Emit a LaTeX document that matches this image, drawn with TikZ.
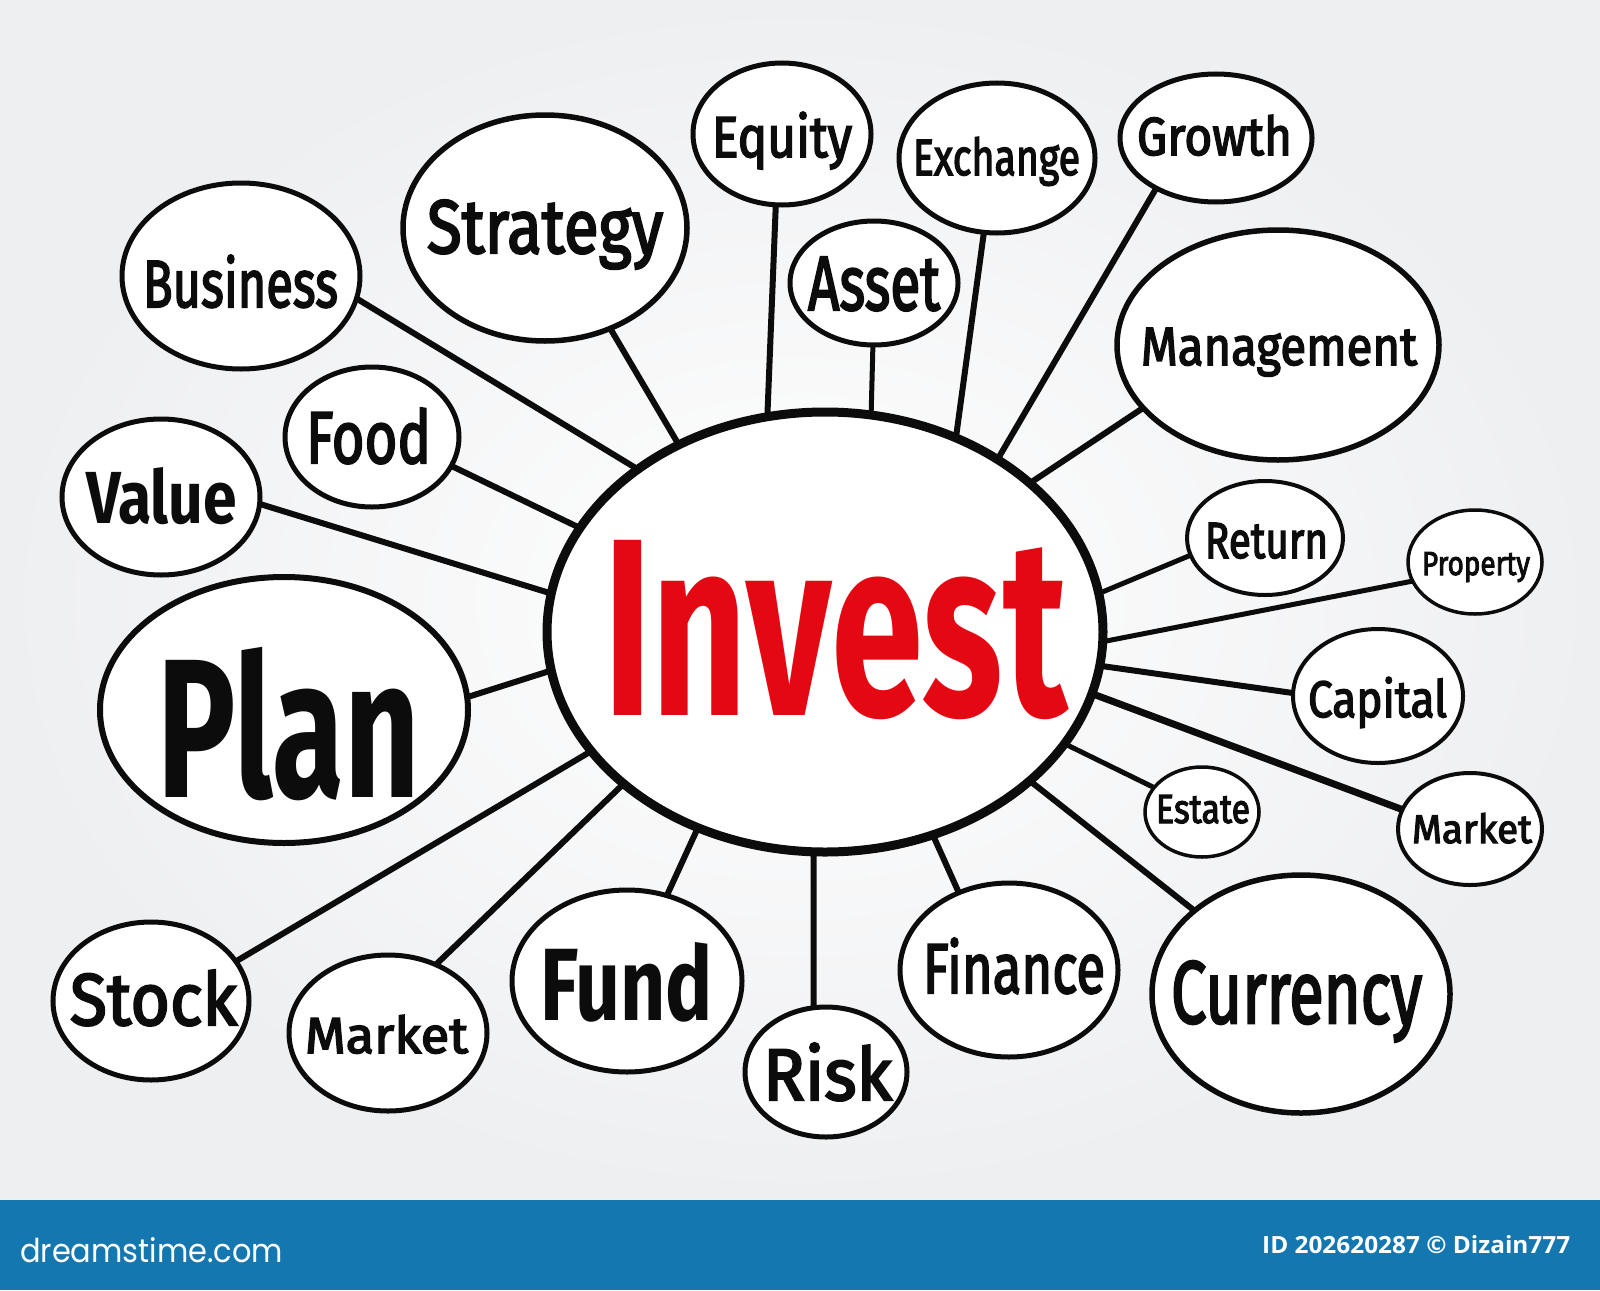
\documentclass[tikz,border=0pt]{standalone}
\usepackage{fontspec}
\newfontfamily\hwfont{Fira Sans}[FakeBold=3]
\newfontfamily\hwbold{Fira Sans Bold}
\newfontfamily\dsfont{Poppins}
\newfontfamily\idfont{Open Sans}
\usetikzlibrary{shapes.geometric}
\pgfdeclarelayer{bg}
\pgfdeclarelayer{lines}
\pgfsetlayers{bg,lines,main}
\definecolor{ink}{RGB}{12,12,12}
\definecolor{investred}{RGB}{228,8,18}
\definecolor{barblue}{RGB}{20,119,176}
\definecolor{bgout}{RGB}{238,239,241}
\tikzset{
  bubble/.style={ellipse, draw=ink, fill=white, line width=5pt, inner sep=0pt, outer sep=0pt},
  conn/.style={draw=ink, line width=6pt},
  lbl/.style={anchor=base west, inner sep=0pt, outer sep=0pt, text=ink},
}
\newcommand\bub[6][]{\node[bubble, minimum width=#5pt, minimum height=#6pt, #1] (#2) at (#3,#4) {};}
\newcommand\wlabel[7][]{\node[lbl, #1] (#2) at (#3,#4) {\resizebox{#5pt}{#6pt}{\hwfont #7}};}
\newcommand\blabel[7][]{\node[lbl, #1] (#2) at (#3,#4) {\resizebox{#5pt}{#6pt}{\hwbold #7}};}
\begin{document}
\begin{tikzpicture}[x=1pt,y=-1pt]
\useasboundingbox (0,0) rectangle (1600,1290);
\begin{pgfonlayer}{bg}
  \shade[inner color=white, outer color=bgout] (0,0) rectangle (1600,1200);
  \fill[barblue] (0,1200) rectangle (1600,1290);
\end{pgfonlayer}

% bubbles
\bub[line width=9pt]{invest}{825}{632}{556}{440}
\bub{business}{241}{276}{238}{186}
\bub[line width=5.5pt]{strategy}{545}{228}{284}{226}
\bub{equity}{782}{134}{178}{142}
\bub{exchange}{997}{158}{196}{150}
\bub{growth}{1216}{138}{192}{128}
\bub{asset}{874}{283}{168}{124}
\bub[line width=5.5pt]{management}{1278}{345}{322}{230}
\bub{food}{372}{437}{174}{140}
\bub{value}{161}{497}{198}{156}
\bub[line width=6pt]{plan}{284}{710}{368}{266}
\bub[line width=4pt]{return}{1265}{538}{156}{114}
\bub[line width=3.5pt]{property}{1475}{562}{134}{104}
\bub[line width=4pt]{capital}{1378}{696}{170}{134}
\bub[line width=3.5pt]{estate}{1202}{812}{114}{90}
\bub[line width=4pt]{marketr}{1470}{829}{144}{112}
\bub{stock}{151}{1001}{196}{158}
\bub{marketl}{388}{1033}{198}{156}
\bub{fund}{627}{981}{230}{182}
\bub{risk}{826}{1072}{162}{130}
\bub{finance}{1009}{970}{218}{174}
\bub[line width=5.5pt]{currency}{1301}{994}{298}{238}

% labels
\blabel[text=investred]{invest-t}{603}{715}{464}{175}{Invest}
\wlabel{business-t}{143}{307}{195}{52}{Business}
\wlabel{strategy-t}{427}{253}{236}{53}{Strategy}
\wlabel{equity-t}{712}{157}{140}{45}{Equity}
\wlabel{exchange-t}{913}{175}{167}{38}{Exchange}
\wlabel{growth-t}{1137}{155}{155}{40}{Growth}
\wlabel{asset-t}{808}{310}{132}{53}{Asset}
\wlabel{management-t}{1141}{365}{276}{37}{Management}
\wlabel{food-t}{306}{463}{125}{55}{Food}
\blabel{value-t}{86}{523}{151}{56}{Value}
\blabel{plan-t}{157}{797}{263}{150}{Plan}
\wlabel{return-t}{1205}{558}{123}{35}{Return}
\wlabel{property-t}{1422}{575}{108}{23}{Property}
\wlabel{capital-t}{1308}{717}{139}{40}{Capital}
\wlabel{estate-t}{1156}{823}{94}{28}{Estate}
\wlabel{marketr-t}{1412}{843}{120}{30}{Market}
\wlabel{stock-t}{70}{1025}{167}{55}{Stock}
\wlabel{marketl-t}{305}{1053}{163}{38}{Market}
\blabel{fund-t}{540}{1020}{173}{78}{Fund}
\wlabel{risk-t}{763}{1100}{129}{57}{Risk}
\wlabel{finance-t}{923}{993}{182}{55}{Finance}
\wlabel{currency-t}{1171}{1023}{251}{62}{Currency}

% connectors
\begin{pgfonlayer}{lines}
\draw[conn] (business.-11.2) -- (invest.139.5);
\draw[conn] (strategy.-57.5) -- (invest.128.1);
\draw[conn] (equity.-95.5) -- (invest.105.5);
\draw[conn, line width=5pt] (asset.-91.8) -- (invest.78.9);
\draw[conn] (exchange.-100.7) -- (invest.56.4);
\draw[conn] (growth.220.6) -- (invest.45.5);
\draw[conn] (management.205.4) -- (invest.36.5);
\draw[conn] (food.-20.9) -- (invest.157.6);
\draw[conn] (value.-4.7) -- (invest.172.4);
\draw[conn] (plan.4.7) -- (invest.188.1);
\draw[conn, line width=5pt] (return.193.9) -- (invest.8.6);
\draw[conn, line width=5pt] (property.197.1) -- (invest.-2.1);
\draw[conn] (capital.178) -- (invest.-7.5);
\draw[conn, line width=7pt] (marketr.164.4) -- (invest.-13.7);
\draw[conn, line width=5pt] (estate.153.9) -- (invest.-25.2);
\draw[conn] (currency.142.9) -- (invest.-36.3);
\draw[conn] (finance.123) -- (invest.-62.6);
\draw[conn] (risk.101.3) -- (invest.-93.1);
\draw[conn] (fund.65.8) -- (invest.-123.3);
\draw[conn] (marketl.55.6) -- (invest.217.1);
\draw[conn] (stock.25.8) -- (invest.207.7);
\end{pgfonlayer}

% footer
\node[anchor=base west, inner sep=0pt, text=white] (ds) at (20,1262) {\resizebox{263pt}{25pt}{\dsfont dreamstime.com}};
\node[anchor=base west, inner sep=0pt, text=white] (id) at (1262,1253) {\resizebox{308pt}{18pt}{\idfont\bfseries ID 202620287 © Dizain777}};
\end{tikzpicture}
\end{document}
